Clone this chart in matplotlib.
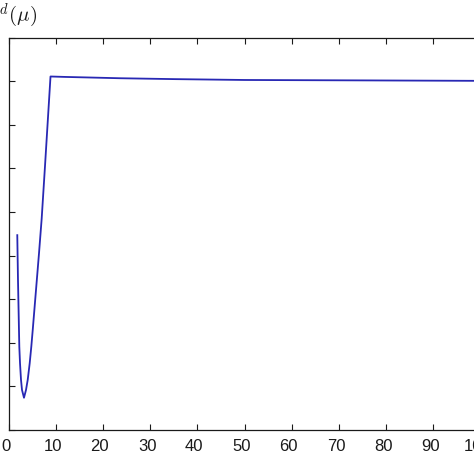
import matplotlib
matplotlib.use("Agg")
import matplotlib.pyplot as plt
import matplotlib.transforms as mtransforms

# values (y in tick units, ticks at every integer)
mu = [1.86, 2.01, 2.22, 2.29, 2.44, 2.65, 2.86, 3.28, 3.71, 4.07, 4.49,
      4.83, 5.13, 6.46, 7.03, 7.73, 8.90, 12.0, 16.0, 23.6, 35.0, 50.0,
      76.6, 100.0]
fd = [4.47, 3.44, 2.29, 1.91, 1.53, 1.15, 0.92, 0.74, 0.92, 1.15, 1.53,
      1.91, 2.29, 4.05, 4.85, 6.05, 8.11, 8.10, 8.09, 8.07, 8.05, 8.03,
      8.02, 8.01]

x_ticks = list(range(0, 101, 10))
y_ticks = list(range(0, 10))

plt.rcParams["font.family"] = ["Liberation Sans", "DejaVu Sans"]
plt.rcParams["mathtext.fontset"] = "cm"

fig = plt.figure(figsize=(4.74, 4.74), dpi=100)
ax = fig.add_axes([8.5 / 474, 44 / 474, 472 / 474, 392.3 / 474])

ax.plot(mu, fd, color="#2828b4", lw=1.3)

ax.set_xlim(0, 100)
ax.set_ylim(0, 9)
ax.set_xticks(x_ticks)
ax.set_yticks(y_ticks)
ax.tick_params(direction="in", length=4, width=0.8, top=True, right=True,
               labelsize=12, colors="#1a1a1a", pad=6.5)
for s in ax.spines.values():
    s.set_linewidth(0.9)
    s.set_color("#1a1a1a")

# tick labels sit a few pixels left of their ticks in the original
shift = mtransforms.ScaledTranslation(-3 / 100, 0, fig.dpi_scale_trans)
for lbl in ax.get_xticklabels():
    lbl.set_transform(lbl.get_transform() + shift)

fig.text(37 / 474, (474 - 22) / 474, r"$f^d(\mu)$", fontsize=15,
         ha="right", va="baseline", color="#1a1a1a")

fig.savefig("out.png", dpi=100, facecolor="white")
